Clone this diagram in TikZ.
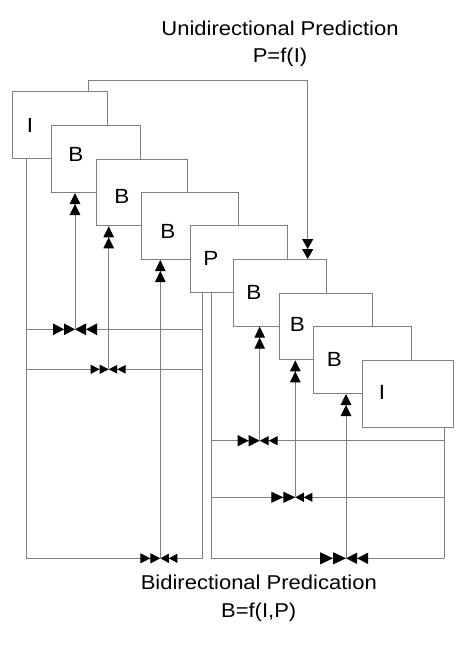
\documentclass[tikz,border=0pt]{standalone}
\usepackage{fontspec}
\setmainfont[FakeStretch=1.1]{Liberation Sans}
\usetikzlibrary{arrows.meta}
\definecolor{ln}{RGB}{128,128,128}
\begin{document}
\begin{tikzpicture}[x=1pt,y=-1pt,
  frame/.style 2 args={draw=ln,line width=1pt,fill=white,anchor=north west,inner sep=0pt,minimum width=#1,minimum height=#2},
  conn/.style={draw=ln,line width=1pt},
  lbl/.style={font=\fontsize{20.5}{24}\selectfont,inner sep=0pt,text=black},
  ttl/.style={font=\fontsize{20}{24}\selectfont,inner sep=0pt,anchor=base,text=black},
  dbl/.style 2 args={-{Triangle[length=#1,width=#2,color=black]Triangle[length=#1,width=#2,color=black]}},
]
\useasboundingbox (0,0) rectangle (474,648);

% frames
\node[frame={95.3pt}{67pt}] (bI)  at (12,91.3) {};
\node[frame={88.4pt}{67.3pt}] (bB1) at (51.3,124.7) {};
\node[frame={91.3pt}{66.6pt}] (bB2) at (95.7,158.7) {};
\node[frame={97pt}{66.7pt}] (bB3) at (141.3,192.3) {};
\node[frame={97.3pt}{67pt}] (bP)  at (190,225.3) {};
\node[frame={92.4pt}{66.7pt}] (bB4) at (233.3,259) {};
\node[frame={93pt}{66.6pt}] (bB5) at (279.3,292.7) {};
\node[frame={97.4pt}{67pt}] (bB6) at (313.3,326) {};
\node[frame={91.6pt}{67pt}] (bI2) at (361.7,359.7) {};

% labels
\node[lbl] (tI)  at (30,125) {I};
\node[lbl] (tB1) at (76,154) {B};
\node[lbl] (tB2) at (122,196) {B};
\node[lbl] (tB3) at (168,231) {B};
\node[lbl] (tP)  at (211,258.3) {P};
\node[lbl] (tB4) at (254,292.7) {B};
\node[lbl] (tB5) at (297.3,324.3) {B};
\node[lbl] (tB6) at (334.3,359.3) {B};
\node[lbl] (tI2) at (382,392.7) {I};

% unidirectional prediction
\draw[conn,dbl={10pt}{11pt}] ([xshift=76.3pt]bI.north west) -- ++(0,-11.3) -| ([xshift=74.4pt]bB4.north west);

% trunk lines
\coordinate (vI)  at ([xshift=14pt]bI.south west);
\coordinate (vPl) at ([xshift=12.7pt]bP.south west);
\coordinate (vPr) at ([xshift=21.3pt]bP.south west);
\coordinate (vI2) at ([xshift=82.6pt]bI2.south west);

% junctions
\coordinate (jA) at (75,329.3);
\coordinate (jB) at (108.7,369.3);
\coordinate (jC) at (160.3,558.3);
\coordinate (jD) at (259.7,440.7);
\coordinate (jE) at (295.3,497.3);
\coordinate (jF) at (346,558.3);

\draw[conn] (vI) -- (vI |- jC);
\draw[conn] (vPl) -- (vPl |- jC);
\draw[conn] (vPr) -- (vPr |- jF);
\draw[conn] (vI2) -- (vI2 |- jF);

% left group
\draw[conn,dbl={11pt}{11.5pt}] (vI |- jA) -- (jA);
\draw[conn,dbl={11pt}{11.5pt}] (vPl |- jA) -- (jA);
\draw[conn,dbl={11pt}{10.5pt}] (jA) -- (jA |- bB1.south);

\draw[conn,dbl={9pt}{9pt}] (vI |- jB) -- (jB);
\draw[conn,dbl={8.5pt}{8.5pt}] (vPl |- jB) -- (jB);
\draw[conn,dbl={11pt}{10.5pt}] (jB) -- (jB |- bB2.south);

\draw[conn,dbl={10pt}{10pt}] (vI |- jC) -- (jC);
\draw[conn,dbl={8.5pt}{9pt}] (vPl |- jC) -- (jC);
\draw[conn,dbl={11pt}{10.5pt}] (jC) -- (jC |- bB3.south);

% right group
\draw[conn,dbl={11pt}{11pt}] (vPr |- jD) -- (jD);
\draw[conn,dbl={9pt}{9pt}] (vI2 |- jD) -- (jD);
\draw[conn,dbl={11pt}{10.5pt}] (jD) -- (jD |- bB4.south);

\draw[conn,dbl={12pt}{11pt}] (vPr |- jE) -- (jE);
\draw[conn,dbl={8.5pt}{9pt}] (vI2 |- jE) -- (jE);
\draw[conn,dbl={11pt}{10.5pt}] (jE) -- (jE |- bB5.south);

\draw[conn,dbl={13pt}{12pt}] (vPr |- jF) -- (jF);
\draw[conn,dbl={11pt}{11pt}] (vI2 |- jF) -- (jF);
\draw[conn,dbl={11pt}{10.5pt}] (jF) -- (jF |- bB6.south);

% titles
\node[ttl] (u1) at (280,35) {Unidirectional Prediction};
\node[ttl] (u2) at (280,62) {P=f(I)};
\node[ttl] (d1) at (258.8,589) {Bidirectional Predication};
\node[ttl] (d2) at (258.7,617.3) {B=f(I,P)};
\end{tikzpicture}
\end{document}
